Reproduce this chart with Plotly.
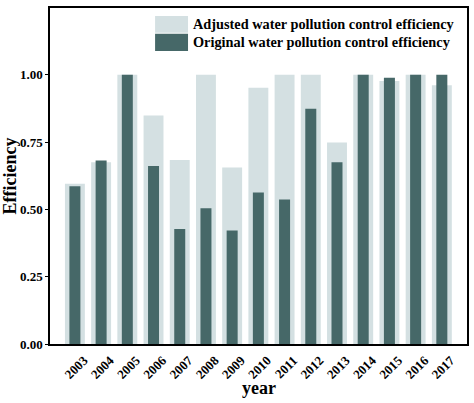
import plotly.graph_objects as go

# data
years = ['2003', '2004', '2005', '2006', '2007', '2008', '2009', '2010',
         '2011', '2012', '2013', '2014', '2015', '2016', '2017']
adjusted = [0.595, 0.675, 1.0, 0.849, 0.683, 1.0, 0.656, 0.952,
            1.0, 1.0, 0.748, 1.0, 0.977, 1.0, 0.961]
original = [0.586, 0.682, 1.0, 0.661, 0.427, 0.504, 0.422, 0.563,
            0.537, 0.874, 0.675, 1.0, 0.989, 1.0, 1.0]
names = ['Adjusted water pollution control efficiency',
         'Original water pollution control efficiency']

light = '#d4e0e2'
dark = '#466868'
font = 'Liberation Serif'

fig = go.Figure()
fig.add_trace(go.Bar(x=years, y=adjusted, name=names[0], width=0.76,
                     marker=dict(color=light, line=dict(width=0))))
fig.add_trace(go.Bar(x=years, y=original, name=names[1], width=0.42,
                     marker=dict(color=dark, line=dict(width=0))))

# hand-made legend with large swatches
fig.add_shape(type='rect', xref='paper', yref='paper', x0=0.252, x1=0.331,
              y0=0.926, y1=0.976, fillcolor=light, line=dict(width=0))
fig.add_shape(type='rect', xref='paper', yref='paper', x0=0.252, x1=0.331,
              y0=0.872, y1=0.923, fillcolor=dark, line=dict(width=0))
for txt, yy in zip(names, [0.951, 0.898]):
    fig.add_annotation(text='<b>' + txt + '</b>', xref='paper', yref='paper',
                       x=0.339, y=yy, xanchor='left', yanchor='middle',
                       showarrow=False, font=dict(family=font, size=14.3, color='black'))

# x axis title
fig.add_annotation(text='<b>year</b>', xref='paper', yref='paper', x=0.5, y=-0.132,
                   xanchor='center', yanchor='middle', showarrow=False,
                   font=dict(family=font, size=18, color='black'))

fig.update_layout(
    width=474, height=403,
    margin=dict(l=50, r=7, t=8, b=59),
    barmode='overlay', showlegend=False,
    plot_bgcolor='white', paper_bgcolor='white',
    font=dict(family=font, color='black'),
)
fig.update_xaxes(
    range=[-0.95, 14.96], tickangle=-45, ticks='', automargin=False,
    ticklabelshift=9, ticklabelstandoff=2,
    tickfont=dict(family=font, size=13, weight='bold'),
    showline=True, linecolor='black', linewidth=1.5, mirror=True, showgrid=False,
)
fig.update_yaxes(
    range=[0, 1.248], tickvals=[0, 0.25, 0.5, 0.75, 1.0],
    ticktext=['0.00', '0.25', '0.50', '0.75', '1.00'],
    ticks='outside', ticklen=3, tickwidth=1, tickcolor='black', automargin=False,
    tickfont=dict(family=font, size=13, weight='bold'),
    title=dict(text='<b>Efficiency</b>', font=dict(size=18), standoff=2),
    showline=True, linecolor='black', linewidth=1.5, mirror=True, showgrid=False,
    zeroline=False,
)

# drop the browser's default page margin so the figure sits at the corner
fig.write_html('out.html', config={'displayModeBar': False},
               post_script="document.body.style.margin='0';document.body.style.overflow='hidden';")
